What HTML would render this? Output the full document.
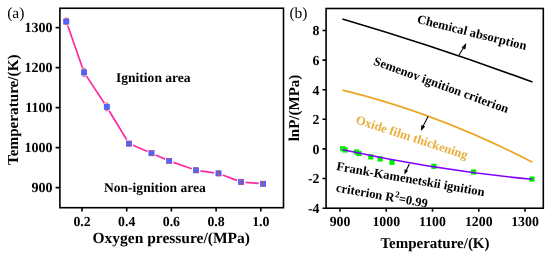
<!DOCTYPE html>
<html><head><meta charset="utf-8">
<style>
html,body{margin:0;padding:0;background:#fff;}
body{width:550px;height:254px;overflow:hidden;}
svg{display:block;filter:blur(0.35px);}
text{font-family:"Liberation Serif",serif;font-weight:bold;fill:#000;text-rendering:geometricPrecision;}
.t{font-size:13.8px;}
.lab{font-size:15.2px;}
</style></head>
<body>
<svg width="550" height="254" viewBox="0 0 550 254">
<!-- ============ Panel (a) ============ -->
<text x="7.2" y="18.2" style="font-weight:normal;font-size:15.5px">(a)</text>
<g stroke="#000" stroke-width="1.6" fill="none">
  <rect x="59.9" y="8.25" width="223.6" height="199.45"/>
  <path d="M55.6 27.6H59.9M55.6 67.6H59.9M55.6 107.6H59.9M55.6 147.6H59.9M55.6 187.6H59.9"/>
  <path d="M82 207.7V211.4M126.7 207.7V211.4M171.4 207.7V211.4M216.1 207.7V211.4M260.8 207.7V211.4"/>
</g>
<g class="t" text-anchor="end">
  <text x="52.6" y="31.7" style="font-size:14px">1300</text>
  <text x="52.6" y="71.7" style="font-size:14px">1200</text>
  <text x="52.6" y="111.7" style="font-size:14px">1100</text>
  <text x="52.6" y="151.7" style="font-size:14px">1000</text>
  <text x="52.6" y="191.7" style="font-size:14px">900</text>
</g>
<g class="t" text-anchor="middle">
  <text x="82" y="225.7">0.2</text>
  <text x="126.7" y="225.7">0.4</text>
  <text x="171.4" y="225.7">0.6</text>
  <text x="216.1" y="225.7">0.8</text>
  <text x="260.8" y="225.7">1.0</text>
</g>
<text class="lab" x="92.5" y="243.4" style="font-size:15.5px">Oxygen pressure/(MPa)</text>
<text class="lab" transform="translate(17.9,165) rotate(-90)">Temperature/(K)</text>
<text x="116" y="82" style="font-size:13.55px">Ignition area</text>
<text x="104" y="192" style="font-size:13.55px">Non-ignition area</text>
<!-- data line -->
<path fill="none" stroke="#ff2aa0" stroke-width="1.7" stroke-linecap="butt" d="M67.8 25.7L82.6 68.2M86.5 76.1L104.4 103.2M109.1 110.7L126.7 139.8M133.0 145.3L147.5 151.5M155.5 155.0L165.2 159.1M173.4 162.4L191.8 168.8M200.4 170.9L214.1 172.8M222.6 175.0L237.0 180.4M245.5 182.4L258.7 183.4"/>
<g stroke="#f04848" stroke-width="0.8" fill="none">
  <path d="M66.3 18.2V24.8"/>
  <path d="M84.1 68.4V76.4"/>
  <path d="M106.8 103.1V110.7"/>
</g>
<g fill="#5565f2" stroke="#3a4af0" stroke-width="0.6">
  <rect x="63.7" y="18.9" width="5.2" height="5.2"/>
  <rect x="81.5" y="69.8" width="5.2" height="5.2"/>
  <rect x="104.2" y="104.3" width="5.2" height="5.2"/>
  <rect x="126.4" y="141.0" width="5.2" height="5.2"/>
  <rect x="148.9" y="150.6" width="5.2" height="5.2"/>
  <rect x="166.6" y="158.3" width="5.2" height="5.2"/>
  <rect x="193.4" y="167.7" width="5.2" height="5.2"/>
  <rect x="215.9" y="170.8" width="5.2" height="5.2"/>
  <rect x="238.5" y="179.4" width="5.2" height="5.2"/>
  <rect x="260.5" y="181.2" width="5.2" height="5.2"/>
</g>
<g stroke="#f04848" stroke-width="0.8" fill="none">
  <path d="M64.7 18.2H67.9M64.7 24.8H67.9"/>
  <path d="M82.5 68.4H85.7M82.5 76.4H85.7"/>
  <path d="M105.2 103.1H108.4M105.2 110.7H108.4"/>
  <path d="M127.4 141.3H130.6M127.4 145.9H130.6"/>
  <path d="M149.9 150.9H153.1M149.9 155.5H153.1"/>
  <path d="M167.6 158.6H170.8M167.6 163.2H170.8"/>
  <path d="M194.4 168.0H197.6M194.4 172.6H197.6"/>
  <path d="M216.9 171.1H220.1M216.9 175.7H220.1"/>
  <path d="M239.5 179.7H242.7M239.5 184.3H242.7"/>
  <path d="M261.5 181.5H264.7M261.5 186.1H264.7"/>
  <path d="M218.5 171.1V175.7" stroke-width="0.6"/>
  <path d="M241.1 179.7V184.3" stroke-width="0.6"/>
  <path d="M263.1 181.5V186.1" stroke-width="0.6"/>
</g>

<!-- ============ Panel (b) ============ -->
<text x="289.4" y="18.1" style="font-weight:normal;font-size:15.5px">(b)</text>
<g stroke="#000" stroke-width="1.6" fill="none">
  <rect x="326.1" y="8.5" width="217.2" height="199.7"/>
  <path d="M322.5 30.5H326.1M322.5 60.1H326.1M322.5 89.7H326.1M322.5 119.3H326.1M322.5 148.9H326.1M322.5 178.5H326.1M322.5 208.2H326.1"/>
  <path d="M340 208.2V211.8M386.25 208.2V211.8M432.5 208.2V211.8M478.75 208.2V211.8M525 208.2V211.8"/>
</g>
<g class="t" text-anchor="end">
  <text x="319.5" y="35.3">8</text>
  <text x="319.5" y="64.9">6</text>
  <text x="319.5" y="94.5">4</text>
  <text x="319.5" y="124.1">2</text>
  <text x="319.5" y="153.7">0</text>
  <text x="319.5" y="183.3">-2</text>
  <text x="319.5" y="212.9">-4</text>
</g>
<g class="t" text-anchor="middle">
  <text x="340" y="225.7">900</text>
  <text x="386.25" y="225.7">1000</text>
  <text x="432.5" y="225.7">1100</text>
  <text x="478.75" y="225.7">1200</text>
  <text x="525" y="225.7">1300</text>
</g>
<text class="lab" x="380.4" y="248" style="font-size:15px">Temperature/(K)</text>
<text class="lab" transform="translate(298.6,141.3) rotate(-90)" style="font-size:15px">lnP/(MPa)</text>

<!-- curves -->
<path d="M342.4 19.1Q437.45 47.05 532.5 82.1" fill="none" stroke="#000" stroke-width="1.6"/>
<path d="M342.4 90.1Q437.4 113 532.4 162.2" fill="none" stroke="#eba520" stroke-width="1.6"/>
<g fill="#00ee00">
  <rect x="340.1" y="146.1" width="5.2" height="5.2"/>
  <rect x="342.5" y="147.4" width="5.2" height="5.2"/>
  <rect x="353.9" y="149.4" width="5.2" height="5.2"/>
  <rect x="356.4" y="151.0" width="5.2" height="5.2"/>
  <rect x="368.2" y="154.3" width="5.2" height="5.2"/>
  <rect x="377.6" y="156.4" width="5.2" height="5.2"/>
  <rect x="389.4" y="159.7" width="5.2" height="5.2"/>
  <rect x="431.3" y="163.7" width="5.2" height="5.2"/>
  <rect x="471.0" y="169.4" width="5.2" height="5.2"/>
  <rect x="529.4" y="176.5" width="5.2" height="5.2"/>
</g>
<path d="M342.9 149.8Q437.65 170.5 532.4 179.3" fill="none" stroke="#8000ff" stroke-width="1.6"/>
<!-- arrows -->
<g stroke="#000" stroke-width="1.1" fill="#000">
  <path d="M458.9 55.3L464 47" fill="none"/>
  <path d="M466.3 43L461.6 47.6L465.3 49.4Z" stroke="none"/>
  <path d="M428.2 116.3L423.2 126" fill="none"/>
  <path d="M420.9 131L421.4 124.9L425.2 126.6Z" stroke="none"/>
  <path d="M409.3 164.1L406.2 170.5" fill="none"/>
  <path d="M404.4 174.5L404.6 169.2L408.2 170.8Z" stroke="none"/>
</g>
<!-- annotation texts -->
<text transform="translate(416.5,22.8) rotate(14)" style="font-size:12.6px">Chemical absorption</text>
<text transform="translate(372.8,64.4) rotate(20)" style="font-size:12.6px">Semenov ignition criterion</text>
<text transform="translate(355,123.2) rotate(18)" style="font-size:12.6px;fill:#e9ae3c">Oxide film thickening</text>
<text transform="translate(336,170.1) rotate(10)" style="font-size:12.6px">Frank-Kamenetskii ignition</text>
<text transform="translate(335.6,191.5) rotate(10)" style="font-size:12.6px">criterion R<tspan dy="-4.8" style="font-size:8.8px">2</tspan><tspan dy="4.8">=0.99</tspan></text>
</svg>
</body></html>
